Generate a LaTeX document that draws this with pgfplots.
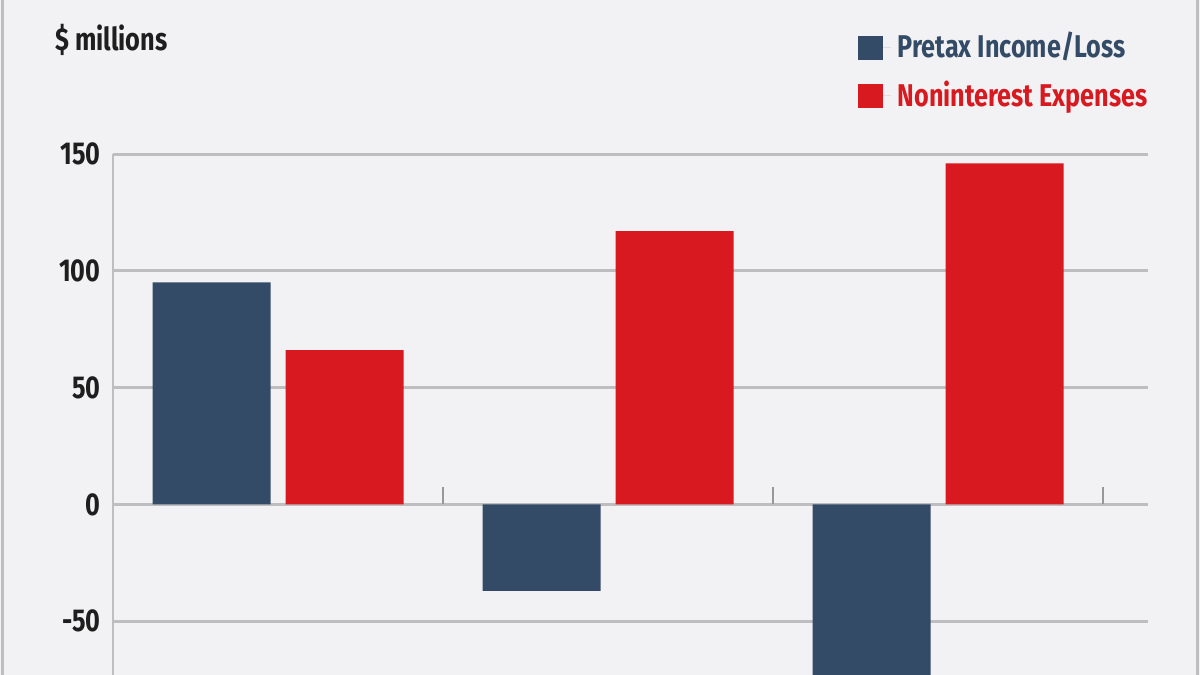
\documentclass[border=0pt]{standalone}
\usepackage{pgfplots}
\pgfplotsset{compat=1.18}
\usepackage{fontspec}
\setmainfont{Fira Sans}[FakeStretch=0.8]
\definecolor{navy}{HTML}{334B66}
\definecolor{redbar}{HTML}{D8191F}
\definecolor{bg}{HTML}{F2F2F4}
\definecolor{gridgray}{HTML}{BEBEC0}
\definecolor{labelgray}{HTML}{1E1E1E}

\begin{document}
\begin{tikzpicture}
% page is 1200 x 675 px, 1 px = 0.01 cm
\useasboundingbox (0,0) rectangle (12,6.75);
\fill[bg] (0,0) rectangle (12,6.75);
\draw[gridgray, line width=0.6pt] (0.025,0) -- (0.025,6.75);
\draw[gridgray, line width=0.6pt] (11.975,0) -- (11.975,6.75);
\clip (0,0) rectangle (12,6.75);
\begin{axis}[
  at={(1.13cm,-0.63cm)}, anchor=south west,
  scale only axis, width=10.35cm, height=5.84cm,
  clip=false,
  ybar=0.15cm, bar width=1.18cm,
  xmin=-0.5, xmax=2.636,
  ymin=-100, ymax=150,
  ytick={-50,0,50,100,150},
  xtick=\empty,
  axis x line=none,
  axis y line*=left,
  axis line style={gridgray, line width=0.85pt, -},
  major tick length=0pt,
  ymajorgrids,
  grid style={gridgray, line width=0.85pt},
  /pgf/number format/assume math mode=true,
  yticklabel style={font=\bfseries\fontsize{9}{10}\selectfont, text=labelgray, xshift=0cm},
  legend style={at={(0.719,1.222)}, anchor=north west, draw=none, fill=none,
    font=\bfseries\fontsize{8.95}{10}\selectfont, row sep=1pt, inner sep=0pt,
    /tikz/every even column/.append style={column sep=0pt}},
  legend cell align=left,
  legend image code/.code={\fill[#1] (0cm,-0.12cm) rectangle (0.25cm,0.12cm);
    \path (0cm,0cm) -- (0.33cm,0cm);},
]
\addplot[fill=navy, draw=none] coordinates {(0,95) (1,-37) (2,-85)};
\addlegendentry{\textcolor{navy}{Pretax Income/Loss}}
\addplot[fill=redbar, draw=none] coordinates {(0,66) (1,117) (2,146)};
\addlegendentry{\textcolor{redbar}{Noninterest Expenses}}
\draw[gridgray!80!black, line width=0.6pt] (axis cs:0.5,0) -- (axis cs:0.5,7.5);
\draw[gridgray!80!black, line width=0.6pt] (axis cs:1.5,0) -- (axis cs:1.5,7.5);
\draw[gridgray!80!black, line width=0.6pt] (axis cs:2.5,0) -- (axis cs:2.5,7.5);
\node[anchor=west, font=\bfseries\fontsize{9}{10}\selectfont, text=labelgray, inner sep=0pt]
  at (rel axis cs:-0.0565,1.196) {\$ millions};
\end{axis}
\end{tikzpicture}
\end{document}
